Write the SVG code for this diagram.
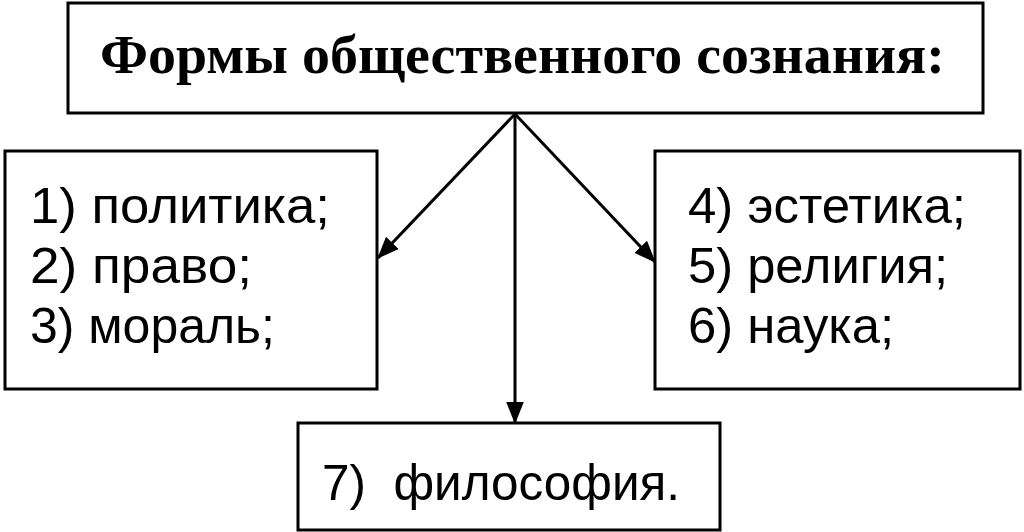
<svg xmlns="http://www.w3.org/2000/svg" width="1024" height="532" viewBox="0 0 1024 532">
<style>
.b{fill:#fff;stroke:#000;stroke-width:3}
.t{font-family:"Liberation Sans",Arial,sans-serif;font-size:50px;fill:#000}
.h{font-family:"Liberation Serif","Times New Roman",serif;font-weight:bold;font-size:54px;fill:#000}
.c{stroke:#000;stroke-width:3;fill:none}
</style>
<defs>
<marker id="m" viewBox="0 0 20 20" refX="19" refY="10" markerWidth="22" markerHeight="22" orient="auto" markerUnits="userSpaceOnUse"><path d="M0,2 L20,10 L0,18 Z" fill="#000"/></marker></defs>
<g id="connectors">
<line class="c" x1="515" y1="114" x2="378" y2="258" marker-end="url(#m)"/>
<line class="c" x1="515" y1="114" x2="655" y2="262" marker-end="url(#m)"/>
<line class="c" x1="515" y1="114" x2="515" y2="423" marker-end="url(#m)"/>
</g>
<g id="top"><rect class="b" x="68" y="3" width="915" height="110"/><text class="h" x="100" y="73" textLength="845" lengthAdjust="spacingAndGlyphs">Формы общественного сознания:</text></g>
<g id="left"><rect class="b" x="5" y="151" width="372" height="238"/>
<text class="t" x="30" y="223" textLength="300" lengthAdjust="spacingAndGlyphs">1) политика;</text><text class="t" x="30" y="283" textLength="222" lengthAdjust="spacingAndGlyphs">2) право;</text><text class="t" x="30" y="343" textLength="245" lengthAdjust="spacingAndGlyphs">3) мораль;</text></g>
<g id="right"><rect class="b" x="655" y="151" width="365" height="238"/>
<text class="t" x="688" y="223" textLength="278" lengthAdjust="spacingAndGlyphs">4) эстетика;</text><text class="t" x="688" y="283" textLength="260" lengthAdjust="spacingAndGlyphs">5) религия;</text><text class="t" x="688" y="343" textLength="206" lengthAdjust="spacingAndGlyphs">6) наука;</text></g>
<g id="bottom"><rect class="b" x="298" y="423" width="422" height="107"/><text class="t" x="322" y="500" xml:space="preserve" textLength="358" lengthAdjust="spacingAndGlyphs">7)  философия.</text></g>
</svg>
